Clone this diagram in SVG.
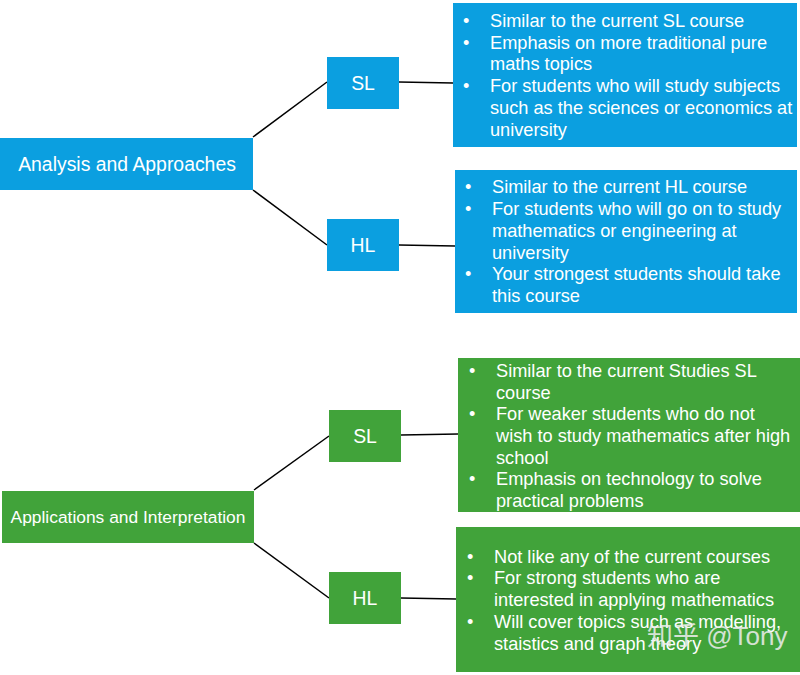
<svg xmlns="http://www.w3.org/2000/svg" width="800" height="675" viewBox="0 0 800 675">
<style>
.b{fill:#0b9fe0}.g{fill:#41a33a}
text{font-family:"Liberation Sans",Arial,sans-serif;font-size:18.2px;fill:#fff}
.c{text-anchor:middle;font-size:19.4px}
line{stroke:#000;stroke-width:1.5}
</style>
<rect width="800" height="675" fill="#fff"/>
<g id="connectors">
<line x1="253" y1="137" x2="327" y2="82"/><line x1="253" y1="190" x2="327" y2="245"/>
<line x1="399" y1="82" x2="453" y2="83"/><line x1="399" y1="245" x2="455" y2="246"/>
<line x1="254" y1="490" x2="329" y2="436"/><line x1="254" y1="543" x2="329" y2="598"/>
<line x1="401" y1="435" x2="458" y2="434"/><line x1="401" y1="598" x2="456" y2="599"/>
</g>
<g id="aa"><rect class="b" x="0" y="138" width="253" height="52"/><text class="c" x="127" y="171">Analysis and Approaches</text></g>
<g id="aa-sl"><rect class="b" x="327" y="57" width="72" height="52"/><text class="c" x="363" y="90">SL</text></g>
<g id="aa-hl"><rect class="b" x="327" y="219" width="72" height="52"/><text class="c" x="363" y="252">HL</text></g>
<g id="aa-sl-t"><rect class="b" x="453" y="3" width="344" height="144"/>
<text x="463" y="27">•</text><text x="490" y="27">Similar to the current SL course</text>
<text x="463" y="49">•</text><text x="490" y="49">Emphasis on more traditional pure</text>
<text x="490" y="70">maths topics</text>
<text x="463" y="92">•</text><text x="490" y="92">For students who will study subjects</text>
<text x="490" y="114">such as the sciences or economics at</text>
<text x="490" y="136">university</text></g>
<g id="aa-hl-t"><rect class="b" x="455" y="170" width="342" height="143"/>
<text x="465" y="193">•</text><text x="492" y="193">Similar to the current HL course</text>
<text x="465" y="215">•</text><text x="492" y="215">For students who will go on to study</text>
<text x="492" y="237">mathematics or engineering at</text>
<text x="492" y="259">university</text>
<text x="465" y="280">•</text><text x="492" y="280">Your strongest students should take</text>
<text x="492" y="302">this course</text></g>
<g id="ai"><rect class="g" x="2" y="491" width="252" height="52"/><text class="c" x="128" y="523" style="font-size:17.4px">Applications and Interpretation</text></g>
<g id="ai-sl"><rect class="g" x="329" y="410" width="72" height="52"/><text class="c" x="365" y="443">SL</text></g>
<g id="ai-hl"><rect class="g" x="329" y="572" width="72" height="52"/><text class="c" x="365" y="605">HL</text></g>
<g id="ai-sl-t"><rect class="g" x="458" y="358" width="342" height="154"/>
<text x="469" y="377">•</text><text x="496" y="377">Similar to the current Studies SL</text>
<text x="496" y="399">course</text>
<text x="469" y="420">•</text><text x="496" y="420">For weaker students who do not</text>
<text x="496" y="442">wish to study mathematics after high</text>
<text x="496" y="464">school</text>
<text x="469" y="485">•</text><text x="496" y="485">Emphasis on technology to solve</text>
<text x="496" y="507">practical problems</text></g>
<g id="ai-hl-t"><rect class="g" x="456" y="527" width="344" height="145"/>
<text x="467" y="563">•</text><text x="494" y="563">Not like any of the current courses</text>
<text x="467" y="584">•</text><text x="494" y="584">For strong students who are</text>
<text x="494" y="606">interested in applying mathematics</text>
<text x="467" y="628">•</text><text x="494" y="628">Will cover topics such as modelling,</text>
<text x="494" y="650">staistics and graph theory</text></g>
<text x="647" y="645" style="font-family:'Liberation Sans','Noto Sans CJK SC',sans-serif;font-size:26px;fill:#eee;opacity:0.85">知乎 @Tony</text>
</svg>
